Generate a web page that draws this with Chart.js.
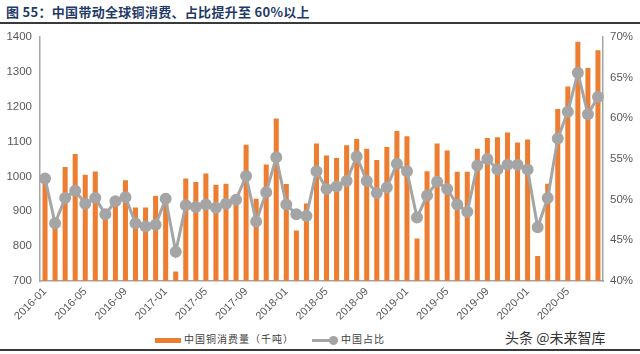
<!DOCTYPE html>
<html>
<head>
<meta charset="utf-8">
<script src="https://cdn.jsdelivr.net/npm/chart.js@4"></script>
<style>
  body { margin: 0; width: 640px; height: 354px; background: #fff; overflow: hidden; position: relative; font-family: "Liberation Sans", Arial, sans-serif; }
  #title { position: absolute; left: 6px; top: 2px; font: bold 13px "Noto Sans CJK SC", sans-serif; color: #1f3a68; letter-spacing: 0.3px; }
  #rule { position: absolute; left: 0; top: 22px; width: 640px; height: 2px; background: #3a3a3a; }
  #box { position: absolute; left: 0; top: 26px; width: 640px; height: 295px; }
  .leg { position: absolute; top: 331px; font: 10px "Noto Sans CJK SC", sans-serif; color: #404040; letter-spacing: 1px; }
  #wm { position: absolute; left: 505px; top: 327px; font: 14px "Noto Sans CJK SC", sans-serif; color: #333; }
  #bottom { position: absolute; left: 0; top: 349px; width: 640px; height: 2px; background: #3a3a3a; }
</style>
</head>
<body>
<div id="title">图 55：中国带动全球铜消费、占比提升至 60%以上</div>
<div id="rule"></div>
<div id="box"><canvas id="myChart"></canvas></div>
<div class="leg" style="left:155px;"><span style="display:inline-block;width:26px;height:5px;background:#ED7D31;vertical-align:middle;margin-right:3px;"></span>中国铜消费量（千吨）</div>
<div class="leg" style="left:312px;"><span style="display:inline-block;position:relative;width:26px;height:3px;background:#A5A5A5;vertical-align:middle;margin-right:3px;"><span style="position:absolute;left:17px;top:-3px;width:9px;height:9px;border-radius:50%;background:#A5A5A5;"></span></span>中国占比</div>
<div id="wm">头条 @未来智库</div>
<div id="bottom"></div>
<script>
const months = [];
for (let y = 2016; y <= 2020; y++) {
    for (let m = 1; m <= 12; m++) {
        if (y === 2020 && m > 8) break;
        months.push(y + '-' + String(m).padStart(2, '0'));
    }
}

const consumption = [
    995, 875, 1027, 1064, 1005, 1014, 890, 925, 989, 911, 911, 944,
    951, 727, 994, 984, 1008, 976, 979, 946, 1091, 936, 1034, 1166,
    978, 845, 922, 1094, 1060, 1053, 1089, 1107, 1079, 1047, 1084, 1130,
    1115, 822, 1015, 1094, 1074, 1013, 1013, 1079, 1110, 1112, 1126, 1097,
    1106, 772, 979, 1193, 1258, 1386, 1311, 1362
];

const share = [
    52.6, 47.1, 50.2, 51.1, 49.5, 50.2, 48.2, 49.8, 50.3, 47.1, 46.7, 46.9,
    50.1, 43.6, 49.3, 49.1, 49.4, 49.0, 49.5, 50.0, 52.9, 47.3, 50.9, 55.2,
    49.4, 48.2, 48.0, 53.5, 51.3, 51.6, 52.3, 55.3, 52.3, 50.8, 51.5, 54.4,
    53.5, 47.8, 50.5, 52.2, 51.3, 49.4, 48.5, 54.2, 55.0, 53.7, 54.3, 54.3,
    53.7, 46.6, 50.2, 57.5, 60.8, 65.6, 60.5, 62.6
];

const leftTicks = [700, 800, 900, 1000, 1100, 1200, 1300, 1400];
const rightTicks = [40, 45, 50, 55, 60, 65, 70];

const tickFont = { family: '"Liberation Sans", Arial, sans-serif', size: 11.5 };
const axisGray = '#A6A6A6';

var ctx = document.getElementById('myChart').getContext('2d');
var myChart = new Chart(ctx, {
    data: {
        labels: months,
        datasets: [{
            type: 'line',
            label: '中国占比',
            data: share,
            yAxisID: 'y1',
            borderColor: '#A5A5A5',
            backgroundColor: '#A5A5A5',
            borderWidth: 3,
            pointRadius: 4.5,
            pointHoverRadius: 4.5,
            tension: 0,
            order: 0
        }, {
            type: 'bar',
            label: '中国铜消费量（千吨）',
            data: consumption,
            yAxisID: 'y',
            backgroundColor: '#ED7D31',
            barPercentage: 0.5,
            categoryPercentage: 1,
            order: 1
        }]
    },
    options: {
        responsive: true,
        maintainAspectRatio: false,
        animation: false,
        layout: { padding: { top: 4, left: 0, right: 0, bottom: 0 } },
        plugins: { legend: { display: false }, tooltip: { enabled: false } },
        scales: {
            x: {
                grid: { display: false, drawTicks: false },
                border: { color: axisGray, width: 1.5 },
                ticks: {
                    autoSkip: false,
                    maxRotation: 45,
                    minRotation: 45,
                    padding: 4,
                    color: '#595959',
                    font: { family: tickFont.family, size: 11 },
                    callback: function (value, index) {
                        return index % 4 === 0 ? months[index] : null;
                    }
                },
                afterFit: function (scale) { scale.height = 40; }
            },
            y: {
                position: 'left',
                min: 700,
                max: 1400,
                grid: { display: false, drawTicks: true, tickLength: 4, color: axisGray },
                border: { color: axisGray, width: 1.5 },
                afterBuildTicks: function (scale) { scale.ticks = leftTicks.map(v => ({ value: v })); },
                ticks: {
                    color: '#595959',
                    font: tickFont,
                    padding: 4,
                    callback: function (value) { return String(value); }
                },
                afterFit: function (scale) { scale.width = 40; }
            },
            y1: {
                position: 'right',
                min: 40,
                max: 70,
                grid: { display: false, drawTicks: true, tickLength: 4, color: axisGray },
                border: { color: axisGray, width: 1.5 },
                afterBuildTicks: function (scale) { scale.ticks = rightTicks.map(v => ({ value: v })); },
                ticks: {
                    color: '#595959',
                    font: tickFont,
                    padding: 3,
                    callback: function (value) { return value + '%'; }
                },
                afterFit: function (scale) { scale.width = 37; }
            }
        }
    }
});
</script>
</body>
</html>
